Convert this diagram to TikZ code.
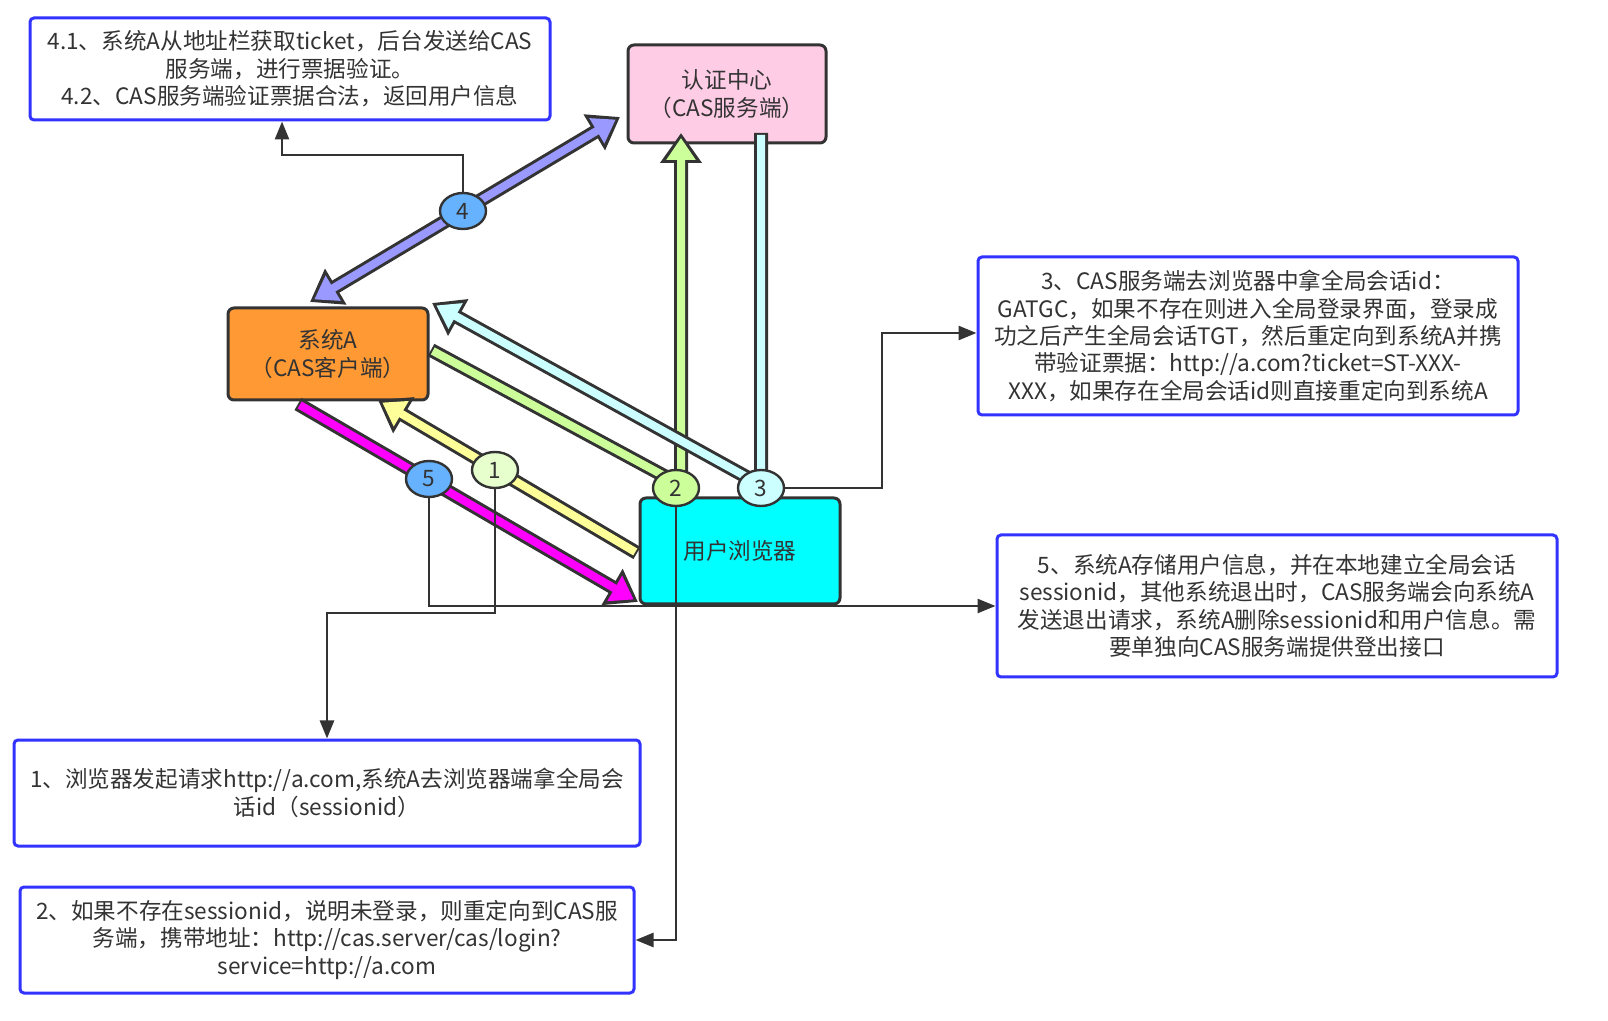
\documentclass[tikz,border=0pt]{standalone}
\usepackage{fontspec}
\setmainfont{Noto Sans CJK SC}
\usetikzlibrary{shapes,arrows.meta,positioning}
\definecolor{edge}{HTML}{333333}
\definecolor{boxblue}{HTML}{3333FF}
\definecolor{casbg}{HTML}{FFCCE6}
\definecolor{sysbg}{HTML}{FF9933}
\definecolor{brwbg}{HTML}{00FFFF}
\definecolor{bandfour}{HTML}{9999FF}
\definecolor{bandone}{HTML}{FFFF99}
\definecolor{bandtwo}{HTML}{CCFF99}
\definecolor{bandthree}{HTML}{CCFFFF}
\definecolor{bandfive}{HTML}{FF00FF}
\definecolor{numblue}{HTML}{66B2FF}
\definecolor{numone}{HTML}{E6FFCC}
\begin{document}
\begin{tikzpicture}[x=0.5pt,y=-0.5pt,font=\fontsize{11.3}{13.7}\selectfont]

\tikzstyle{note} = [rectangle, rounded corners=2pt, draw=boxblue, line width=1.5pt, align=center, inner sep=2pt, text=edge]
\tikzstyle{block} = [rectangle, rounded corners=3pt, draw=edge, line width=1.5pt, align=center, text=edge]
\tikzstyle{stepno} = [ellipse, draw=edge, line width=1.2pt, minimum width=23pt, minimum height=18pt, inner sep=0pt, text=edge]
\tikzstyle{link} = [draw=edge, line width=1.3pt, -{Triangle[length=9pt,width=7pt]}]
\tikzstyle{bandout} = [draw=edge, line width=7pt]
\tikzstyle{bandin} = [line width=4pt]

\useasboundingbox (0,0) rectangle (1608,1021);

% boxes
\node (cas) [block, fill=casbg, minimum width=99pt, minimum height=49pt] at (727,94) {认证中心\\（CAS服务端）};
\node (sysA) [block, fill=sysbg, minimum width=100pt, minimum height=46pt] at (328,354) {系统A\\（CAS客户端）};
\node (brw) [block, fill=brwbg, minimum width=100pt, minimum height=53pt] at (740,551) {用户浏览器};

\node (b41) [note, minimum width=260pt, minimum height=51pt] at (290,69) {4.1、系统A从地址栏获取ticket，后台发送给CAS\\服务端，进行票据验证。\\4.2、CAS服务端验证票据合法，返回用户信息};
\node (b3) [note, minimum width=270pt, minimum height=79pt] at (1248,336) {3、CAS服务端去浏览器中拿全局会话id：\\GATGC，如果不存在则进入全局登录界面，登录成\\功之后产生全局会话TGT，然后重定向到系统A并携\\带验证票据：http://a.com?ticket=ST-XXX-\\XXX，如果存在全局会话id则直接重定向到系统A};
\node (b5) [note, minimum width=280pt, minimum height=71pt] at (1277,606) {5、系统A存储用户信息，并在本地建立全局会话\\sessionid，其他系统退出时，CAS服务端会向系统A\\发送退出请求，系统A删除sessionid和用户信息。需\\要单独向CAS服务端提供登出接口};
\node (b1) [note, minimum width=313pt, minimum height=53pt] at (327,793) {1、浏览器发起请求http://a.com,系统A去浏览器端拿全局会\\话id（sessionid）};
\node (b2) [note, minimum width=307pt, minimum height=53pt] at (327,940) {2、如果不存在sessionid，说明未登录，则重定向到CAS服\\务端，携带地址：http://cas.server/cas/login?\\service=http://a.com};

% wide bands
\coordinate (p4a) at (310,302);
\coordinate (p4b) at (620,117);
\draw [bandout, {Triangle[length=15pt,width=20pt]}-{Triangle[length=15pt,width=20pt]}] (p4a) -- (p4b);
\draw [bandin, bandfour, {Triangle[length=11pt,width=14pt]}-{Triangle[length=11pt,width=14pt]}, shorten <=2.5pt, shorten >=2.5pt] (p4a) -- (p4b);

\coordinate (p1a) at (637,553);
\coordinate (p1b) at (378,400);
\draw [bandout, -{Triangle[length=15pt,width=20pt]}] (p1a) -- (p1b);
\draw [bandin, bandone, -{Triangle[length=11pt,width=14pt]}, shorten <=1pt, shorten >=2.5pt] (p1a) -- (p1b);

\coordinate (p2a) at (431,350);
\coordinate (p2m) at (681,485);
\coordinate (p2b) at (681,133);
\draw [bandout, -{Triangle[length=15pt,width=20pt]}] (p2a) -- (p2m) -- (p2b);
\draw [bandin, bandtwo, -{Triangle[length=11pt,width=14pt]}, shorten <=1pt, shorten >=2.5pt] (p2a) -- (p2m) -- (p2b);

\coordinate (p3a) at (761,133);
\coordinate (p3m) at (761,485);
\coordinate (p3b) at (432,303);
\draw [bandout, -{Triangle[length=15pt,width=20pt]}] (p3a) -- (p3m) -- (p3b);
\draw [bandin, bandthree, -{Triangle[length=11pt,width=14pt]}, shorten <=1pt, shorten >=2.5pt] (p3a) -- (p3m) -- (p3b);

\coordinate (p5a) at (298,404);
\coordinate (p5b) at (638,602);
\draw [bandout, -{Triangle[length=15pt,width=20pt]}] (p5a) -- (p5b);
\draw [bandin, bandfive, -{Triangle[length=11pt,width=14pt]}, shorten <=1pt, shorten >=2.5pt] (p5a) -- (p5b);

% step marks
\node (s4) [stepno, fill=numblue] at (463,211) {4};
\node (s1) [stepno, fill=numone] at (495,470) {1};
\node (s5) [stepno, fill=numblue] at (429,479) {5};
\node (s2) [stepno, fill=bandtwo] at (676,488) {2};
\node (s3) [stepno, fill=bandthree] at (761,488) {3};

% thin links
\coordinate (k4) at (463,155);
\draw [link] (s4.north) -- (k4) -| (b41.south -| 282,0);
\draw [link] (s3.east) -| (882,333) -- (b3.west |- 0,333);
\draw [link] (s5.south) |- (b5.west |- 0,606);
\coordinate (k1) at (495,613);
\draw [link] (s1.south) -- (k1) -| (b1.north);
\draw [link] (s2.south) |- (b2.east);

\end{tikzpicture}
\end{document}
